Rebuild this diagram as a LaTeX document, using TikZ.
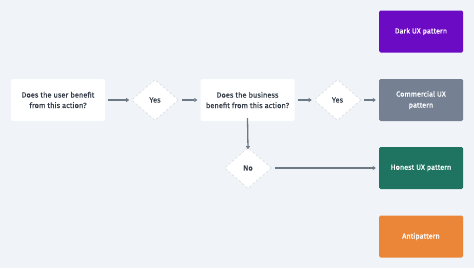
\documentclass[tikz,border=0pt]{standalone}
\usepackage{fontspec}
\setmainfont{Fira Sans}
\usetikzlibrary{shapes.geometric,arrows.meta}
\definecolor{bg}{HTML}{F0F3F7}
\definecolor{txt}{HTML}{353D48}
\definecolor{arr}{HTML}{6E7986}
\definecolor{dash}{HTML}{D8DDE3}
\definecolor{purp}{HTML}{6C0BC4}
\definecolor{gry}{HTML}{758193}
\definecolor{grn}{HTML}{1E7460}
\definecolor{org}{HTML}{EB8638}
\tikzset{
  q/.style={fill=white, rounded corners=1.5pt, minimum width=94pt, minimum height=42pt, inner sep=0pt, align=center, text=txt, font=\fontsize{7.5}{10.5}\selectfont\addfontfeatures{FakeBold=0.3}},
  dmd/.style={diamond, fill=white, draw=dash, dashed, dash pattern=on 2.5pt off 2pt, line width=0.6pt, minimum width=47pt, minimum height=41pt, inner sep=0pt, aspect=1.1, text=txt, font=\fontsize{7.5}{10.5}\selectfont\addfontfeatures{FakeBold=0.2}},
  res/.style={rounded corners=1.5pt, minimum width=84pt, minimum height=42pt, inner sep=0pt, align=center, text=white, font=\fontsize{7.3}{11}\selectfont\addfontfeatures{FakeBold=0.5}},
  conn/.style={draw=arr, line width=1.3pt, -{Triangle[length=3pt,width=4pt]}}
}
\begin{document}
\begin{tikzpicture}[x=1pt,y=-1pt]
\fill[bg] (0,0) rectangle (474,268);
\useasboundingbox (0,0) rectangle (474,268);
\node[q] (q1) at (58,100) {Does the user benefit\\from this action?};
\node[dmd] (y1) at (155,100) {Yes};
\node[q] (q2) at (247.5,100) {Does the business\\benefit from this action?};
\node[dmd] (y2) at (337.5,100) {Yes};
\node[dmd] (n1) at (248,168) {No};
\node[res, fill=purp] (dark) at (421,31.5) {Dark UX pattern};
\node[res, fill=gry] (com) at (421,100) {Commercial UX\\pattern};
\node[res, fill=grn] (hon) at (421,168) {Honest UX pattern};
\node[res, fill=org] (anti) at (421,236.5) {Antipattern};
\draw[conn] ([xshift=3pt]q1.east) -- ([xshift=-2pt]y1.west);
\draw[conn] ([xshift=3pt]y1.east) -- ([xshift=-3pt]q2.west);
\draw[conn] ([xshift=3pt]q2.east) -- ([xshift=-2pt]y2.west);
\draw[conn] ([xshift=3pt]y2.east) -- ([xshift=-3pt]com.west);
\draw[conn] ([yshift=3pt]q2.south) -- ([yshift=-2pt]n1.north);
\draw[conn] ([xshift=3pt]n1.east) -- ([xshift=-3pt]hon.west);
\end{tikzpicture}
\end{document}
